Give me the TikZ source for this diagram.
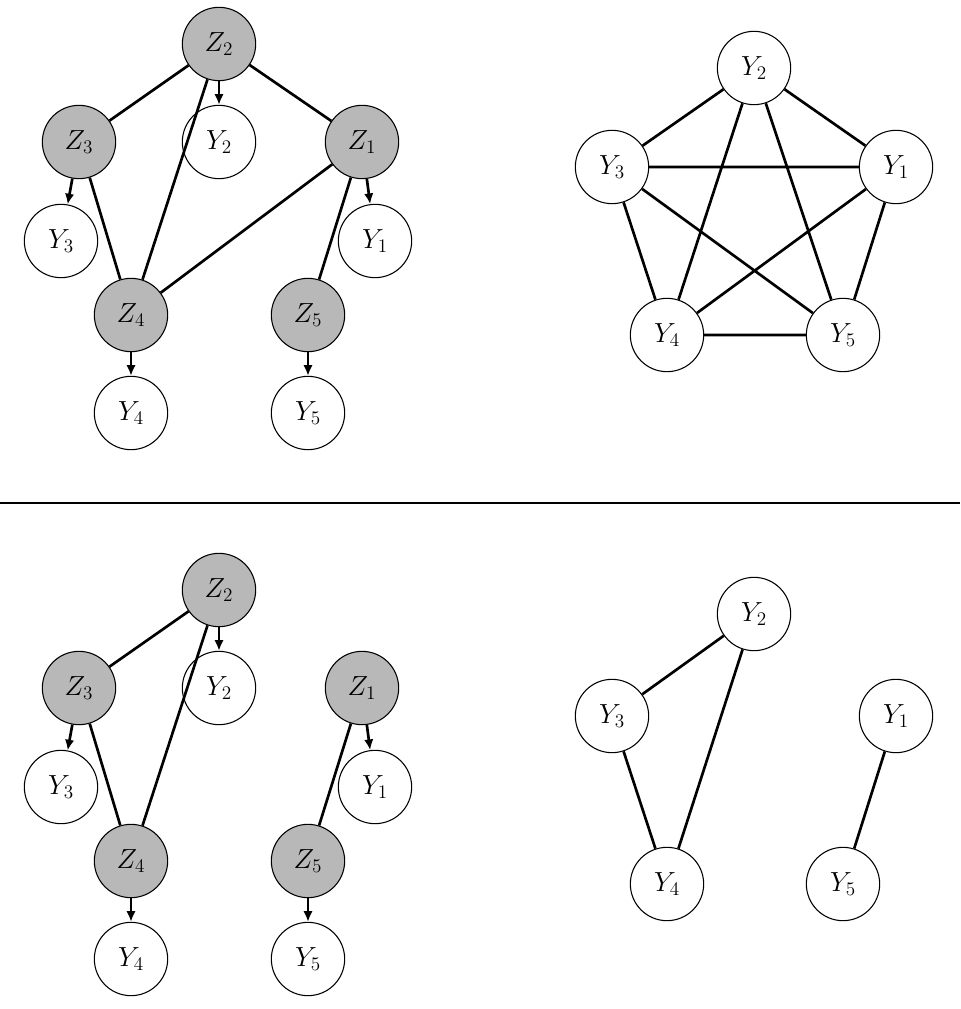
\documentclass[tikz,border=0pt]{standalone}
\usetikzlibrary{arrows.meta}
\begin{document}
\begin{tikzpicture}[x=0.75pt,y=-0.75pt,
  vnode/.style={circle,draw,line width=0.8pt,minimum size=55pt,inner sep=0pt,font=\fontsize{20}{24}\selectfont},
  znode/.style={vnode,fill=black!28},
  edge/.style={line width=2pt},
  arr/.style={line width=2pt,-{Latex[length=8pt,width=7pt]}}]
\useasboundingbox (0,0) rectangle (960,1009);
\draw[line width=0.9pt] (0,503) -- (960,503);
% top left
\begin{scope}
\node[znode] (z2) at (219,44) {$Z_2$};
\node[vnode] (y2) at (219,142) {$Y_2$};
\node[znode] (z3) at (79,142) {$Z_3$};
\node[vnode] (y3) at (61,241) {$Y_3$};
\node[znode] (z1) at (362,142) {$Z_1$};
\node[vnode] (y1) at (375,241) {$Y_1$};
\node[znode] (z4) at (131,315) {$Z_4$};
\node[vnode] (y4) at (131,413) {$Y_4$};
\node[znode] (z5) at (308,315) {$Z_5$};
\node[vnode] (y5) at (308,413) {$Y_5$};
\draw[edge] (z2)--(z3) (z2)--(z1) (z2)--(z4) (z3)--(z4) (z1)--(z4) (z1)--(z5);
\foreach \i in {1,...,5} \draw[arr] (z\i)--(y\i);
\end{scope}
% top right
\begin{scope}
\node[vnode] (a2) at (754,68) {$Y_2$};
\node[vnode] (a3) at (612,167) {$Y_3$};
\node[vnode] (a1) at (896,167) {$Y_1$};
\node[vnode] (a4) at (667,335) {$Y_4$};
\node[vnode] (a5) at (843,335) {$Y_5$};
\draw[edge] (a1)--(a2) (a1)--(a3) (a1)--(a4) (a1)--(a5) (a2)--(a3) (a2)--(a4) (a2)--(a5) (a3)--(a4) (a3)--(a5) (a4)--(a5);
\end{scope}
% bottom left
\begin{scope}
\node[znode] (bz2) at (219,590) {$Z_2$};
\node[vnode] (by2) at (219,688) {$Y_2$};
\node[znode] (bz3) at (79,688) {$Z_3$};
\node[vnode] (by3) at (61,787) {$Y_3$};
\node[znode] (bz1) at (362,688) {$Z_1$};
\node[vnode] (by1) at (375,787) {$Y_1$};
\node[znode] (bz4) at (131,861) {$Z_4$};
\node[vnode] (by4) at (131,959) {$Y_4$};
\node[znode] (bz5) at (308,861) {$Z_5$};
\node[vnode] (by5) at (308,959) {$Y_5$};
\draw[edge] (bz2)--(bz3) (bz2)--(bz4) (bz3)--(bz4) (bz1)--(bz5);
\foreach \i in {1,...,5} \draw[arr] (bz\i)--(by\i);
\end{scope}
% bottom right
\begin{scope}
\node[vnode] (b2) at (754,614) {$Y_2$};
\node[vnode] (b3) at (612,716) {$Y_3$};
\node[vnode] (b1) at (896,716) {$Y_1$};
\node[vnode] (b4) at (667,884) {$Y_4$};
\node[vnode] (b5) at (843,884) {$Y_5$};
\draw[edge] (b2)--(b3) (b2)--(b4) (b3)--(b4) (b1)--(b5);
\end{scope}
\end{tikzpicture}
\end{document}
